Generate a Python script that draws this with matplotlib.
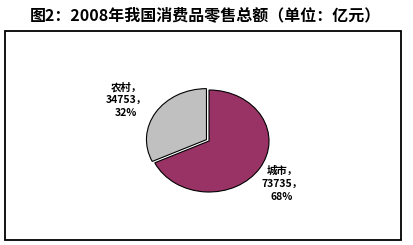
import matplotlib.pyplot as plt
from matplotlib.patches import Rectangle

plt.rcParams['font.family'] = ['Noto Sans CJK SC', 'DejaVu Sans']

W, H = 413, 245

categories = ['城市', '农村']
values = [73735, 34753]
colors = ['#993366', '#C0C0C0']
explode = [0, 0.05]

title = '图2：2008年我国消费品零售总额（单位：亿元）'

fig = plt.figure(figsize=(W / 100, H / 100), dpi=100)

def px(x, y):
    # pixel coords (from top-left) -> figure fraction
    return x / W, 1 - y / H

# outer frame
x0, y0 = px(5, 240)
x1, y1 = px(401, 31)
fig.patches.append(Rectangle((x0, y0), x1 - x0, y1 - y0, transform=fig.transFigure,
                             fill=False, edgecolor='black', linewidth=1.3))

fig.text(*px(205, 15), title, ha='center', va='center', fontsize=11.5, fontweight='bold')

# pie drawn as ellipse: axes scaled so radius ~60px wide, ~51px tall
cx, cy, rx, ry = 209, 141, 60, 51
lim = 1.1
l, b = px(cx - lim * rx, cy + lim * ry)
ax = fig.add_axes([l, b, 2 * lim * rx / W, 2 * lim * ry / H])
ax.pie(values, colors=colors, startangle=90, counterclock=False, explode=explode,
       wedgeprops=dict(edgecolor='black', linewidth=0.8))
ax.set_aspect('auto')
ax.set_xlim(-lim, lim)
ax.set_ylim(-lim, lim)
ax.axis('off')

total = sum(values)
label_pos = [(282, 184), (126, 100)]
for name, v, (lx, ly) in zip(categories, values, label_pos):
    txt = '{}，\n{}，\n{:.0f}%'.format(name, v, v / total * 100)
    fig.text(*px(lx, ly), txt, ha='center', va='center', fontsize=7.5,
             fontweight='bold', linespacing=1.35)

plt.savefig('out.png', dpi=100)
